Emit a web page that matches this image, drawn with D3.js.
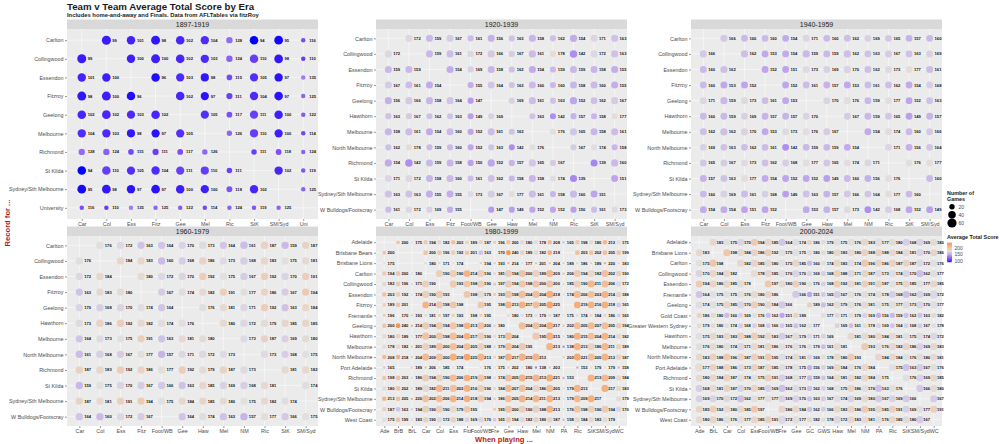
<!DOCTYPE html>
<html><head><meta charset="utf-8">
<script src="https://cdn.jsdelivr.net/npm/d3@7"></script>
<style>body{margin:0;background:#fff;} svg{display:block;font-family:"Liberation Sans",Arial,sans-serif;}</style>
</head><body>
<script>
const _ = null;
const eras = ["1897-1919","1920-1939","1940-1959","1960-1979","1980-1999","2000-2024"];

const teams1897 = ["Carlton","Collingwood","Essendon","Fitzroy","Geelong","Melbourne","Richmond","St Kilda","Sydney/Sth Melbourne","University"];
const abbr1897 = ["Car","Col","Ess","Fitz","Gee","Mel","Ric","StK","SM/Syd","Uni"];
const teamsMid = ["Carlton","Collingwood","Essendon","Fitzroy","Geelong","Hawthorn","Melbourne","North Melbourne","Richmond","St Kilda","Sydney/Sth Melbourne","W Bulldogs/Footscray"];
const abbrMid = ["Car","Col","Ess","Fitz","Foot/WB","Gee","Haw","Mel","NM","Ric","StK","SM/Syd"];
const teams1980 = ["Adelaide","Brisbane Bears","Brisbane Lions","Carlton","Collingwood","Essendon","Fitzroy","Fremantle","Geelong","Hawthorn","Melbourne","North Melbourne","Port Adelaide","Richmond","St Kilda","Sydney/Sth Melbourne","W Bulldogs/Footscray","West Coast"];
const abbr1980 = ["Ade","BrB","BrL","Car","Col","Ess","Fitz","Foot/WB","Fre","Gee","Haw","Mel","NM","PA","Ric","StK","SM/Syd","WC"];
const teams2000 = ["Adelaide","Brisbane Lions","Carlton","Collingwood","Essendon","Fremantle","Geelong","Gold Coast","Greater Western Sydney","Hawthorn","Melbourne","North Melbourne","Port Adelaide","Richmond","St Kilda","Sydney/Sth Melbourne","W Bulldogs/Footscray","West Coast"];
const abbr2000 = ["Ade","BrL","Car","Col","Ess","Foot/WB","Fre","Gee","GC","GWS","Haw","Mel","NM","PA","Ric","StK","SM/Syd","WC"];

// average total score, rows = "Record for", columns = "When playing"
const score1897 = [
[_,99,101,98,102,104,128,94,95,116],
[99,_,100,100,102,103,124,110,98,110],
[101,100,_,96,103,98,115,105,97,135],
[98,100,96,_,102,97,111,104,97,125],
[102,102,103,102,_,105,117,111,100,122],
[104,103,98,97,105,_,126,110,100,114],
[128,124,115,111,117,126,_,111,118,124],
[94,110,105,104,111,110,111,_,102,119],
[95,98,97,97,100,100,118,102,_,125],
[116,110,135,125,122,114,124,119,125,_]];
const score1920 = [
[_,172,159,167,161,156,163,158,162,154,171,163],
[172,_,159,161,172,166,167,161,178,142,172,163],
[159,159,_,154,169,158,162,154,159,159,158,155],
[167,161,154,_,155,164,163,160,160,158,160,155],
[156,166,158,164,147,_,169,161,163,152,162,167],
[163,167,162,163,149,169,_,163,142,157,158,177],
[158,161,154,160,152,161,163,_,176,165,158,161],
[162,178,159,160,152,163,142,176,_,167,174,158],
[154,142,159,158,150,152,157,165,167,_,139,160],
[171,172,158,160,161,162,158,158,174,139,_,151],
[163,163,155,155,173,167,177,161,158,160,151,_],
[161,172,169,155,_,147,149,152,152,150,161,173]];
const score1940 = [
[_,166,160,160,154,171,160,162,169,165,157,160],
[166,_,162,153,154,159,159,162,163,167,163,169],
[160,162,_,152,151,173,169,170,162,173,177,161],
[160,153,152,_,152,161,157,153,161,162,154,168],
[171,159,173,161,153,_,170,176,159,177,152,163],
[160,159,169,157,157,170,_,167,159,165,149,157],
[162,162,170,153,173,176,167,_,154,174,160,166],
[169,163,162,161,142,159,159,154,_,171,156,164],
[165,167,173,162,168,177,165,174,171,_,176,177],
[157,163,177,154,152,152,149,160,156,176,_,160],
[160,169,161,168,149,163,157,166,164,177,160,_],
[154,154,151,152,_,153,157,173,142,168,152,149]];
const score1960 = [
[_,176,172,163,164,170,173,164,161,187,159,187],
[176,_,184,183,160,168,186,173,168,183,175,181],
[172,184,_,180,172,170,192,175,167,192,170,191],
[163,183,180,_,167,174,182,191,177,186,167,194],
[170,168,170,174,164,_,176,181,171,192,163,184],
[173,186,192,182,174,176,_,180,172,179,185,185],
[164,173,175,191,163,181,180,_,173,187,169,180],
[161,168,167,177,157,171,172,173,_,173,168,175],
[187,183,192,186,177,192,179,187,173,_,181,182],
[159,175,170,167,166,163,185,169,168,181,_,174],
[187,181,191,194,175,184,185,180,175,182,174,_],
[164,160,172,167,_,164,174,163,157,177,166,175]];
const score1980 = [
[_,200,175,194,182,203,189,187,196,200,180,178,208,165,198,180,213,175],
[200,_,_,200,196,192,201,163,170,240,189,182,218,_,203,202,205,199],
[175,_,_,180,171,174,_,194,193,214,177,201,204,189,186,189,220,183],
[194,200,180,_,190,190,214,190,181,194,200,189,209,206,194,182,202,190],
[182,196,171,190,_,193,198,190,197,194,198,200,200,185,190,211,206,172],
[203,192,174,190,193,_,198,179,193,198,204,204,218,174,206,203,214,188],
[189,201,_,214,198,198,_,195,198,213,217,205,225,_,219,216,218,165],
[196,170,193,181,197,193,198,195,_,180,173,179,187,175,174,184,186,165],
[200,240,214,194,194,198,213,200,180,_,204,204,217,202,205,207,205,194],
[180,189,177,200,198,204,217,190,173,204,_,195,215,180,215,204,214,182],
[178,182,201,189,200,204,205,188,179,204,195,_,213,138,213,186,211,189],
[208,218,204,209,200,218,225,213,187,217,215,213,_,203,221,205,213,187],
[165,_,189,206,185,174,_,176,175,202,180,138,203,_,153,179,179,158],
[198,203,186,194,190,206,219,198,174,205,215,213,221,153,_,213,209,184],
[180,202,189,182,211,203,216,190,184,207,204,186,205,179,213,_,217,183],
[213,205,220,202,206,214,218,194,186,205,214,211,213,179,209,217,_,179],
[187,163,194,190,190,179,195,_,195,200,190,188,213,176,198,190,194,170],
[175,199,183,190,172,188,169,170,165,194,182,189,187,158,184,183,179,_]];
const score2000 = [
[_,183,175,170,194,185,164,174,186,179,175,176,183,177,180,168,169,180],
[183,_,198,184,186,192,175,175,180,180,183,180,188,188,184,181,170,186],
[175,198,_,182,185,180,175,185,160,174,183,174,196,186,187,187,172,176],
[170,184,182,_,178,185,176,170,169,168,188,171,187,173,174,170,162,177],
[194,186,185,178,_,197,180,190,176,168,192,181,191,187,175,185,177,185],
[164,175,175,176,180,186,_,166,151,165,167,176,174,178,168,162,169,172],
[174,175,185,170,190,184,166,_,189,162,179,176,181,175,177,173,170,177],
[186,180,160,169,176,162,151,189,_,177,171,179,169,156,159,162,163,182],
[179,180,174,168,168,166,165,162,177,_,169,161,178,169,164,168,167,178],
[175,183,183,188,192,183,167,179,171,169,_,181,180,184,181,175,174,172],
[176,180,174,171,181,186,176,176,179,161,181,_,193,176,182,186,169,183],
[183,188,196,187,191,195,174,181,169,178,180,193,_,184,184,176,180,181],
[177,188,186,173,187,185,178,175,156,169,184,176,184,_,175,163,167,176],
[180,184,187,174,175,191,168,177,159,164,181,182,184,175,_,176,169,185],
[168,181,187,170,185,169,162,173,162,168,175,186,176,163,176,_,166,180],
[169,170,172,162,177,177,169,170,163,167,174,169,180,167,169,166,_,167],
[185,192,180,185,197,_,186,184,162,166,183,186,195,185,191,169,177,191],
[180,186,176,177,185,191,172,177,182,178,172,183,181,176,185,180,167,_]];

// number of games
const games1897 = [
[_,58,50,57,52,49,28,52,54,14],
[58,_,50,57,53,49,28,51,54,14],
[50,50,_,51,48,47,22,48,49,14],
[57,57,51,_,52,48,27,50,53,14],
[52,53,48,52,_,48,23,48,51,14],
[49,49,47,48,48,_,20,47,48,14],
[28,28,22,27,23,20,_,21,24,14],
[52,51,48,50,48,47,21,_,49,14],
[54,54,49,53,51,48,24,49,_,14],
[14,14,14,14,14,14,14,14,14,_]];
const games1920 = [
[_,37,35,35,27,35,27,36,27,37,34,36],
[37,_,35,35,28,37,27,37,27,40,35,36],
[35,35,_,35,27,35,26,35,26,35,34,35],
[35,35,35,_,27,35,26,35,27,35,35,35],
[35,37,35,35,26,_,26,36,26,37,34,36],
[27,27,26,26,26,26,_,26,26,27,26,26],
[36,37,35,35,27,36,26,_,26,37,35,36],
[27,27,26,27,26,26,26,26,_,27,26,26],
[37,40,35,35,27,37,27,37,27,_,35,37],
[34,35,34,35,26,34,26,35,26,35,_,34],
[36,36,35,35,26,36,26,36,26,37,34,_],
[27,28,27,27,_,26,26,27,26,27,26,26]];
const games1940 = [
[_,35,34,33,33,34,33,34,33,33,33,33],
[35,_,36,34,33,36,33,37,33,34,33,34],
[34,36,_,34,33,35,33,37,33,34,33,34],
[33,34,34,_,33,33,33,34,33,33,33,33],
[34,36,35,33,33,_,33,36,33,34,33,34],
[33,33,33,33,33,33,_,33,33,33,33,33],
[34,37,37,34,33,36,33,_,33,34,33,34],
[33,33,33,33,33,33,33,33,_,33,33,33],
[33,34,34,33,33,34,33,34,33,_,33,33],
[33,33,33,33,33,33,33,33,33,33,_,33],
[33,34,34,33,33,34,33,34,33,33,33,_],
[33,33,33,33,_,33,33,33,33,33,33,33]];
const games1960 = [
[_,40,38,37,38,37,39,37,39,40,38,37],
[40,_,38,37,38,37,39,37,39,40,38,37],
[38,38,_,37,38,37,38,37,38,38,38,37],
[37,37,37,_,37,37,37,37,37,37,37,37],
[37,37,37,37,37,_,37,37,37,38,37,37],
[39,39,38,37,38,37,_,37,39,39,38,37],
[37,37,37,37,37,37,37,_,37,37,37,37],
[39,39,38,37,38,37,39,37,_,39,38,37],
[40,40,38,37,38,38,39,37,39,_,38,37],
[38,38,38,37,38,37,38,37,38,38,_,37],
[37,37,37,37,37,37,37,37,37,37,37,_],
[38,38,38,37,_,37,38,37,38,38,38,37]];
const games1980 = [
[_,10,5,14,14,14,10,14,7,14,14,14,14,6,14,14,14,15],
[10,_,_,16,16,16,15,16,3,16,16,16,16,_,16,16,16,16],
[5,_,_,5,5,5,_,5,5,5,5,5,5,5,5,5,5,5],
[14,16,5,_,36,37,31,35,8,36,36,35,35,5,36,35,35,21],
[14,16,5,36,_,37,31,35,8,36,36,35,35,5,36,35,35,21],
[14,16,5,37,37,_,31,36,8,37,38,36,36,5,36,35,35,22],
[10,15,_,31,31,31,_,31,3,31,31,31,31,_,31,31,31,17],
[7,3,5,8,8,8,3,8,_,8,8,8,8,5,8,8,8,10],
[14,16,5,36,36,37,31,35,8,_,37,35,35,5,35,35,35,21],
[14,16,5,36,36,38,31,36,8,37,_,36,37,5,35,35,35,22],
[14,16,5,35,35,36,31,35,8,35,36,_,36,5,35,35,35,21],
[14,16,5,35,35,36,31,35,8,35,37,36,_,5,35,35,35,22],
[6,_,5,5,5,5,_,5,5,5,5,5,5,_,5,5,5,5],
[14,16,5,36,36,36,31,35,8,35,35,35,35,5,_,35,35,20],
[14,16,5,35,35,35,31,35,8,35,35,35,35,5,35,_,35,20],
[14,16,5,35,35,35,31,35,8,35,35,35,35,5,35,35,_,20],
[14,16,5,35,35,36,31,_,8,35,36,35,35,5,35,35,35,21],
[15,16,5,21,21,22,17,21,10,21,22,21,22,5,20,20,20,_]];
const games2000 = [
[_,35,34,35,35,35,35,36,19,17,35,34,35,50,35,35,36,36],
[35,_,35,36,35,35,35,36,20,17,35,35,35,35,35,35,36,35],
[34,35,_,37,38,35,35,35,19,17,35,35,35,35,37,35,35,35],
[35,36,37,_,38,36,35,37,19,18,36,36,35,35,37,36,37,37],
[35,35,38,38,_,35,35,36,19,17,36,36,35,35,36,35,35,36],
[35,35,35,35,35,35,_,36,19,17,35,34,35,35,34,35,36,50],
[36,36,35,37,36,36,36,_,19,18,38,35,36,36,36,37,37,37],
[19,20,19,19,19,19,19,19,_,18,19,19,19,19,19,19,19,19],
[17,17,17,18,17,17,17,18,18,_,17,17,17,17,17,17,18,17],
[35,35,35,36,36,36,35,38,19,17,_,35,36,35,36,35,37,37],
[34,35,35,36,36,35,34,35,19,17,35,_,35,35,36,35,35,35],
[35,35,35,35,35,35,35,36,19,17,36,35,_,35,35,35,36,35],
[50,35,35,35,35,35,35,36,19,17,35,35,35,_,35,35,36,36],
[35,35,37,37,36,35,34,36,19,17,36,36,35,35,_,35,35,36],
[35,35,35,36,35,35,35,37,19,17,35,35,35,35,35,_,36,35],
[36,36,35,37,35,36,36,37,19,18,37,35,36,36,35,36,_,37],
[35,35,35,36,35,_,35,36,19,17,36,35,35,35,35,35,36,35],
[36,35,35,37,36,35,50,37,19,17,37,35,35,36,36,35,37,_]];

const sizeBreaks = [20, 40, 60];
const colourBreaks = [200, 150, 100];

const panels = [
  {era: eras[0], rows: teams1897, cols: abbr1897, score: score1897, games: games1897},
  {era: eras[1], rows: teamsMid, cols: abbrMid, score: score1920, games: games1920},
  {era: eras[2], rows: teamsMid, cols: abbrMid, score: score1940, games: games1940},
  {era: eras[3], rows: teamsMid, cols: abbrMid, score: score1960, games: games1960},
  {era: eras[4], rows: teams1980, cols: abbr1980, score: score1980, games: games1980},
  {era: eras[5], rows: teams2000, cols: abbr2000, score: score2000, games: games2000}
];

const W = 1000, H = 444;
const svg = d3.select("body").append("svg").attr("width", W).attr("height", H);

const colour = d3.scaleLinear().domain([94, 175, 256])
  .range(["#0000ff", "#e0e0e0", "#f7811d"]).interpolate(d3.interpolateLab).clamp(true);
const rScale = v => 0.4 + 4.2 * Math.sqrt(Math.max(0, (v - 3) / (60 - 3)));

const colX = [67, 376, 691], pW = 251;
const rowDef = [{strip: 19.5, top: 29, bottom: 219}, {strip: 226.5, top: 236, bottom: 426}];
const axisCol = "#4d4d4d";

// titles
svg.append("text").attr("x", 67).attr("y", 9.6).attr("font-size", 9.7).attr("font-weight", "bold")
  .attr("fill", "#1a1a1a").text("Team v Team Average Total Score by Era");
svg.append("text").attr("x", 67).attr("y", 17.2).attr("font-size", 5.85).attr("font-weight", "bold")
  .attr("fill", "#1a1a1a").text("Includes home-and-away and Finals. Data from AFLTables via fitzRoy");

panels.forEach((p, k) => {
  const x0 = colX[k % 3], rd = rowDef[Math.floor(k / 3)];
  const g = svg.append("g");
  // strip
  g.append("rect").attr("x", x0).attr("y", rd.strip).attr("width", pW).attr("height", rd.top - rd.strip).attr("fill", "#d9d9d9");
  g.append("text").attr("x", x0 + pW / 2).attr("y", rd.strip + 7.1).attr("text-anchor", "middle")
    .attr("font-size", 7).attr("fill", "#1a1a1a").text(p.era);
  // panel
  g.append("rect").attr("x", x0).attr("y", rd.top).attr("width", pW).attr("height", rd.bottom - rd.top).attr("fill", "#ebebeb");
  const x = d3.scalePoint().domain(p.cols).range([x0, x0 + pW]).padding(0.6);
  const y = d3.scalePoint().domain(p.rows).range([rd.top, rd.bottom]).padding(0.6);
  // grid
  g.selectAll(".vg").data(p.cols).join("line").attr("x1", d => x(d)).attr("x2", d => x(d))
    .attr("y1", rd.top).attr("y2", rd.bottom).attr("stroke", "#fff").attr("stroke-width", 0.5);
  g.selectAll(".hg").data(p.rows).join("line").attr("y1", d => y(d)).attr("y2", d => y(d))
    .attr("x1", x0).attr("x2", x0 + pW).attr("stroke", "#fff").attr("stroke-width", 0.5);
  // axes
  const xa = g.append("g").attr("transform", `translate(0,${rd.bottom})`)
    .call(d3.axisBottom(x).tickSize(2).tickPadding(1));
  xa.select(".domain").remove();
  xa.selectAll("line").attr("stroke", "#333").attr("stroke-width", 0.5);
  xa.selectAll("text").attr("font-size", 5.4).attr("fill", axisCol).attr("font-family", "Liberation Sans, Arial, sans-serif");
  const ya = g.append("g").attr("transform", `translate(${x0},0)`)
    .call(d3.axisLeft(y).tickSize(2).tickPadding(1.5));
  ya.select(".domain").remove();
  ya.selectAll("line").attr("stroke", "#333").attr("stroke-width", 0.5);
  ya.selectAll("text").attr("font-size", 5.4).attr("fill", axisCol).attr("font-family", "Liberation Sans, Arial, sans-serif");
  // cells
  const cells = [];
  p.rows.forEach((r, i) => p.cols.forEach((c, j) => {
    const v = p.score[i][j];
    if (v != null) cells.push({r, c, v, n: p.games[i][j]});
  }));
  const step = x.step();
  g.selectAll("circle.pt").data(cells).join("circle").attr("class", "pt")
    .attr("cx", d => x(d.c)).attr("cy", d => y(d.r)).attr("r", d => rScale(d.n)).attr("fill", d => colour(d.v));
  g.selectAll("text.lb").data(cells).join("text").attr("class", "lb")
    .attr("x", d => x(d.c) + 0.24 * step).attr("y", d => y(d.r) + 1.45)
    .attr("font-size", 4.1).attr("font-weight", "bold").attr("fill", "#111").text(d => d.v);
});

// axis titles
svg.append("text").attr("transform", "translate(9.5,223) rotate(-90)").attr("text-anchor", "middle")
  .attr("font-size", 7.6).attr("font-weight", "bold").attr("fill", "#b31b1b").text("Record for ...");
svg.append("text").attr("x", 504).attr("y", 441.5).attr("text-anchor", "middle")
  .attr("font-size", 7.6).attr("font-weight", "bold").attr("fill", "#b31b1b").text("When playing ...");

// size legend
const lg = svg.append("g");
lg.append("text").attr("x", 947).attr("y", 195.3).attr("font-size", 5.4).attr("font-weight", "bold").attr("fill", "#1a1a1a").text("Number of");
lg.append("text").attr("x", 947).attr("y", 201.3).attr("font-size", 5.4).attr("font-weight", "bold").attr("fill", "#1a1a1a").text("Games");
const sy = [206.7, 214.8, 223];
sizeBreaks.forEach((b, i) => {
  lg.append("circle").attr("cx", 952).attr("cy", sy[i]).attr("r", rScale(b)).attr("fill", "#000");
  lg.append("text").attr("x", 958.5).attr("y", sy[i] + 1.8).attr("font-size", 5).attr("fill", axisCol).text(b);
});

// colour legend
lg.append("text").attr("x", 947).attr("y", 239.3).attr("font-size", 5.4).attr("font-weight", "bold").attr("fill", "#1a1a1a").text("Average Total Score");
const cy = d3.scaleLinear().domain([94, 240]).range([262.2, 242.6]);
const defs = svg.append("defs");
const grad = defs.append("linearGradient").attr("id", "cbar").attr("x1", 0).attr("x2", 0).attr("y1", 1).attr("y2", 0);
d3.range(0, 1.0001, 0.05).forEach(t => {
  const v = 94 + t * (240 - 94);
  grad.append("stop").attr("offset", t).attr("stop-color", colour(v));
});
lg.append("rect").attr("x", 947).attr("y", cy(240)).attr("width", 5).attr("height", cy(94) - cy(240)).attr("fill", "url(#cbar)");
colourBreaks.forEach(b => {
  lg.append("line").attr("x1", 947).attr("x2", 948).attr("y1", cy(b)).attr("y2", cy(b)).attr("stroke", "#fff").attr("stroke-width", 0.4);
  lg.append("line").attr("x1", 951).attr("x2", 952).attr("y1", cy(b)).attr("y2", cy(b)).attr("stroke", "#fff").attr("stroke-width", 0.4);
  lg.append("text").attr("x", 954.5).attr("y", cy(b) + 1.8).attr("font-size", 5).attr("fill", axisCol).text(b);
});
</script>
</body></html>
